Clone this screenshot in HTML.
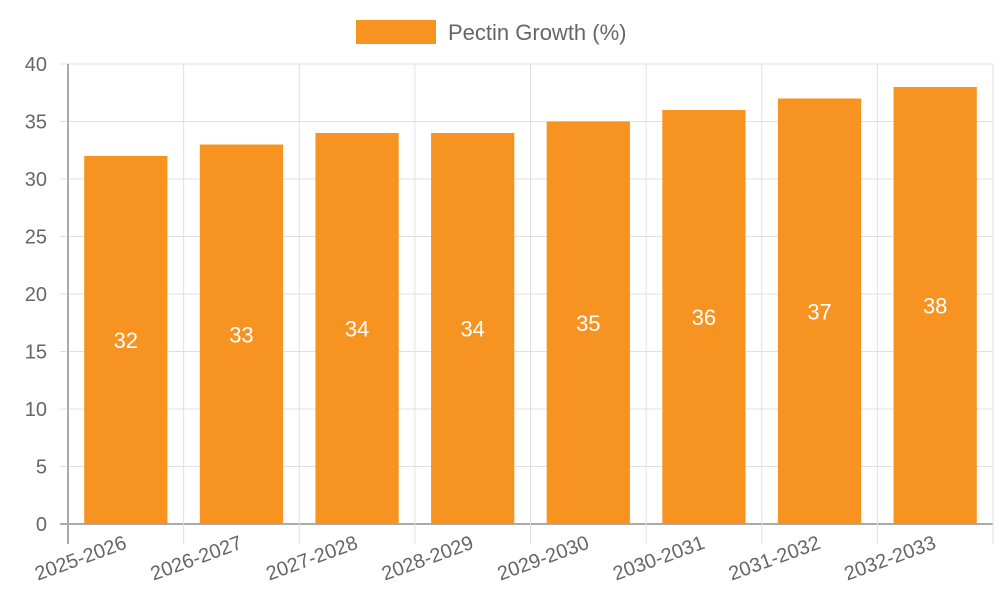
<!DOCTYPE html>
<html><head><meta charset="utf-8"><style>
html,body{margin:0;padding:0;background:#fff;}
svg{display:block;font-family:"Liberation Sans",sans-serif;}
</style></head><body>
<svg id="chart" width="1000" height="600">
<g id="legend">
<rect x="356" y="20" width="80" height="24" fill="#f79421"></rect>
<text x="448" y="40" font-size="22" fill="#666">Pectin Growth (%)</text>
</g>
<g id="grid"></g><g id="bars"></g><g id="labels"></g>
</svg>
<script>
const categories=["2025-2026","2026-2027","2027-2028","2028-2029","2029-2030","2030-2031","2031-2032","2032-2033"];
const values=[32,33,34,34,35,36,37,38];
const yTicks=[0,5,10,15,20,25,30,35,40];
const NS="http://www.w3.org/2000/svg";
const L=68,R=993,T=64,B=524,yMax=40;
const y=v=>B-(v/yMax)*(B-T);
const cw=(R-L)/categories.length;
const x=i=>L+cw*i;
function mk(t,a,p){const e=document.createElementNS(NS,t);for(const k in a)e.setAttribute(k,a[k]);p.appendChild(e);return e;}
const grid=document.getElementById('grid'),bars=document.getElementById('bars'),labels=document.getElementById('labels');
yTicks.forEach(v=>{
 const ln=mk('line',{x1:60,x2:R,y1:y(v),y2:y(v),stroke:v===0?'#aaa':'#e0e0e0','stroke-width':v===0?2:1},grid);
 
 
 const t=mk('text',{x:47,y:y(v)+7,'text-anchor':'end','font-size':20,fill:'#666'},grid);
 t.textContent=v;
 
 
});
for(let i=0;i<=categories.length;i++){
 const ln=mk('line',{x1:x(i),x2:x(i),y1:T,y2:544,stroke:i===0?'#aaa':'#e0e0e0','stroke-width':i===0?2:1},grid);
 
 
}
categories.forEach((c,i)=>{
 const bw=cw*0.72,cx=x(i)+cw/2;
 const r=mk('rect',{x:cx-bw/2,y:y(values[i]),width:bw,height:B-y(values[i]),fill:'#f79421'},bars);
 
 
 const vt=mk('text',{x:cx,y:(y(values[i])+B)/2+8,'text-anchor':'middle','font-size':22,fill:'#fff'},labels);
 vt.textContent=values[i];
 
 
 const tl=mk('text',{x:cx+2,y:548,'text-anchor':'end','font-size':20,fill:'#666',transform:`rotate(-20 ${cx+2} 548)`},labels);
 tl.textContent=c;
 
 
});
</script>
</body></html>
